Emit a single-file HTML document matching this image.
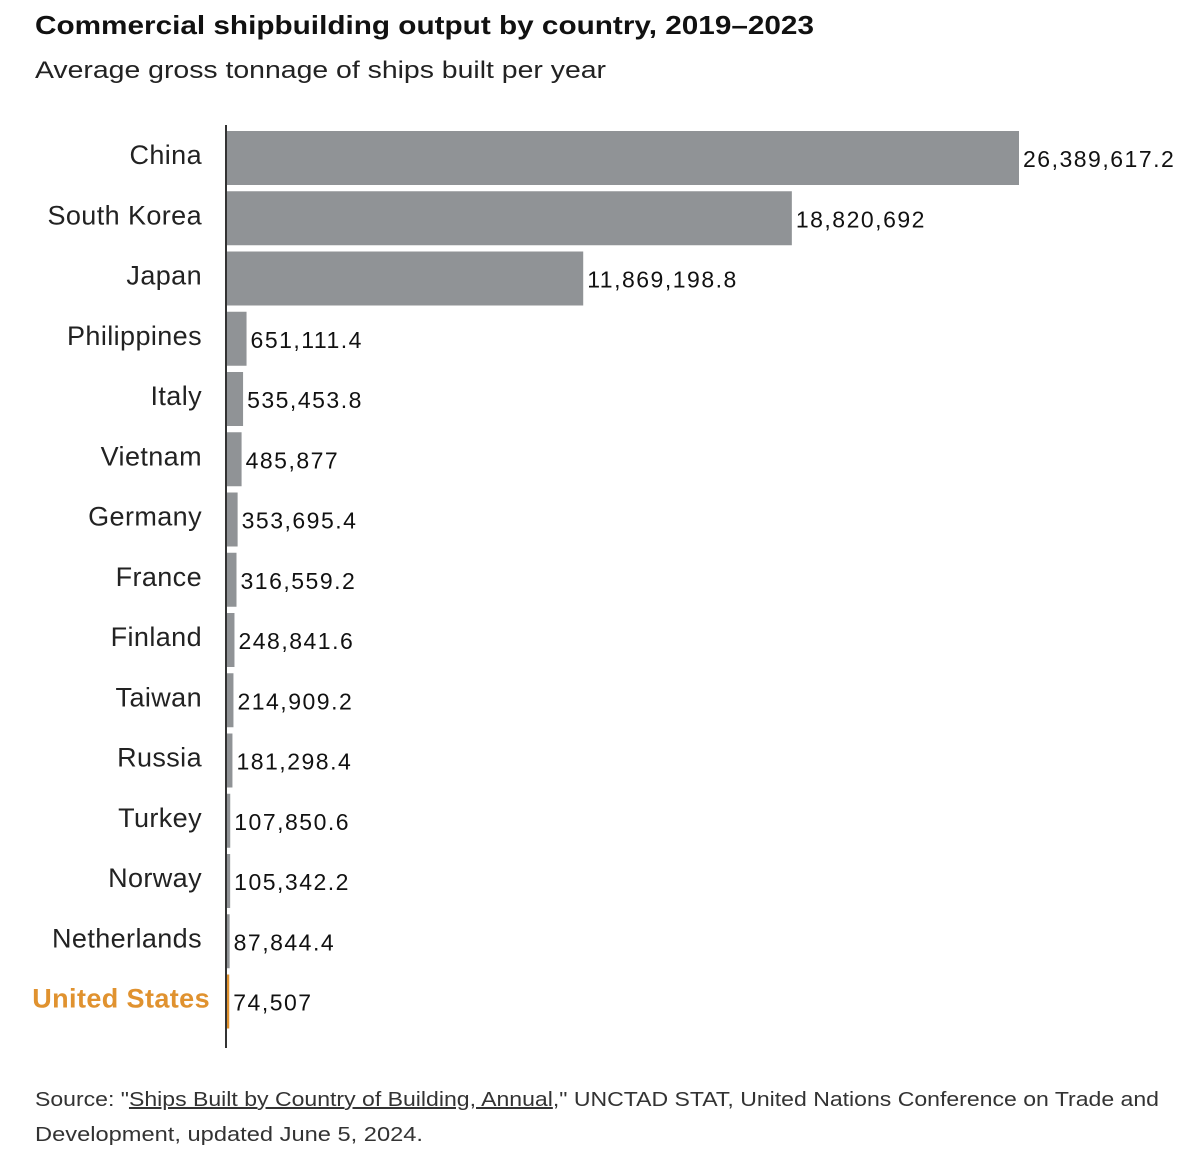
<!DOCTYPE html>
<html><head><meta charset="utf-8"><style>
html,body{margin:0;padding:0;background:#fff;}
svg{display:block;font-family:"Liberation Sans",sans-serif;}
</style></head><body>
<svg id="chart" width="1200" height="1165" viewBox="0 0 1200 1165" xmlns="http://www.w3.org/2000/svg">
<text x="35" y="34" font-size="26" font-weight="bold" fill="#111" textLength="779" lengthAdjust="spacingAndGlyphs">Commercial shipbuilding output by country, 2019–2023</text>
<text x="35" y="78" font-size="24" fill="#222" textLength="571" lengthAdjust="spacingAndGlyphs">Average gross tonnage of ships built per year</text>
<g id="bars"></g>
<line x1="226" y1="125" x2="226" y2="1048" stroke="#333" stroke-width="2"/>
<text font-size="20" fill="#333">
<tspan x="35" y="1106" textLength="1124" lengthAdjust="spacingAndGlyphs">Source: "<tspan text-decoration="underline">Ships Built by Country of Building, Annual</tspan>," UNCTAD STAT, United Nations Conference on Trade and</tspan>
<tspan x="35" y="1141" textLength="388" lengthAdjust="spacingAndGlyphs">Development, updated June 5, 2024.</tspan>
</text>
</svg>
<script>
const countries = ["China","South Korea","Japan","Philippines","Italy","Vietnam","Germany","France","Finland","Taiwan","Russia","Turkey","Norway","Netherlands","United States"];
const values = [26389617.2,18820692,11869198.8,651111.4,535453.8,485877,353695.4,316559.2,248841.6,214909.2,181298.4,107850.6,105342.2,87844.4,74507];
const valueLabels = ["26,389,617.2","18,820,692","11,869,198.8","651,111.4","535,453.8","485,877","353,695.4","316,559.2","248,841.6","214,909.2","181,298.4","107,850.6","105,342.2","87,844.4","74,507"];
const highlight = "United States";

const x0 = 227, xMax = 1019;
const maxV = Math.max(...values);
function xScale(v){ return x0 + (v / maxV) * (xMax - x0); }
const rowTop = 131, rowPitch = 60.25, barH = 54;
function yScale(i){ return rowTop + i * rowPitch; }

const g = document.getElementById('bars');
const NS = "http://www.w3.org/2000/svg";
countries.forEach((c, i) => {
  const isH = c === highlight;
  const y = yScale(i);
  const w = Math.max(xScale(values[i]) - x0, 2);
  const r = document.createElementNS(NS, 'rect');
  
  
  r.setAttribute('x', x0);
  r.setAttribute('y', y);
  r.setAttribute('width', w);
  r.setAttribute('height', barH);
  r.setAttribute('fill', isH ? '#e0922f' : '#909396');
  g.appendChild(r);

  const lab = document.createElementNS(NS, 'text');
  
  
  lab.setAttribute('x', isH ? 210 : 202);
  lab.setAttribute('y', y + barH / 2 + 6);
  lab.setAttribute('text-anchor', 'end');
  lab.setAttribute('font-size', '27');
  lab.setAttribute('letter-spacing', '0.4');
  if (isH) lab.setAttribute('font-weight', 'bold');
  lab.setAttribute('fill', isH ? '#e0922f' : '#222');
  lab.textContent = c;
  g.appendChild(lab);

  const vl = document.createElementNS(NS, 'text');
  
  
  vl.setAttribute('x', x0 + w + 4);
  vl.setAttribute('y', y + barH / 2 + 9);
  vl.setAttribute('font-size', '23');
  vl.setAttribute('letter-spacing', '1.5');
  vl.setAttribute('fill', '#111');
  vl.textContent = valueLabels[i];
  g.appendChild(vl);
});
</script>
</body></html>
